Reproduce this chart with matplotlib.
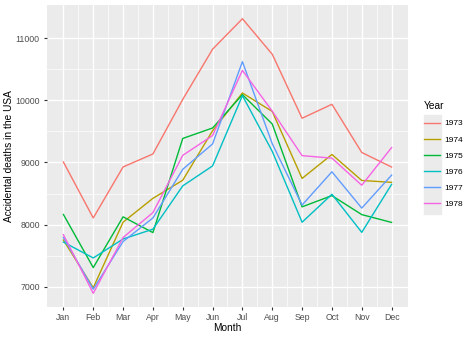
import numpy as np
import matplotlib.pyplot as plt
from matplotlib.patches import Rectangle

plt.rcParams['font.family'] = ['Liberation Sans', 'DejaVu Sans']

months = ['Jan', 'Feb', 'Mar', 'Apr', 'May', 'Jun', 'Jul', 'Aug', 'Sep', 'Oct', 'Nov', 'Dec']
years = ['1973', '1974', '1975', '1976', '1977', '1978']
deaths = {
    '1973': [9007, 8106, 8928, 9137, 10017, 10826, 11317, 10744, 9713, 9938, 9161, 8927],
    '1974': [7750, 6981, 8038, 8422, 8714, 9512, 10120, 9823, 8743, 9129, 8710, 8680],
    '1975': [8162, 7306, 8124, 7870, 9387, 9556, 10093, 9620, 8285, 8466, 8160, 8034],
    '1976': [7717, 7461, 7767, 7925, 8623, 8945, 10078, 9179, 8037, 8488, 7874, 8647],
    '1977': [7792, 6957, 7726, 8106, 8890, 9299, 10625, 9302, 8314, 8850, 8265, 8796],
    '1978': [7836, 6892, 7791, 8192, 9115, 9434, 10484, 9827, 9110, 9070, 8633, 9240],
}
colors = ['#F8766D', '#B79F00', '#00BA38', '#00BFC4', '#619CFF', '#F564E3']

fig = plt.figure(figsize=(4.74, 3.38), dpi=100)
ax = fig.add_axes([47/474, 31/338, 361/474, 302/338])
ax.set_facecolor('#EBEBEB')

x = np.arange(1, 13)
lines = []
for yr, c in zip(years, colors):
    l, = ax.plot(x, deaths[yr], color=c, lw=1.0, label=yr)
    lines.append(l)

allv = np.concatenate([deaths[y] for y in years])
lo, hi = allv.min(), allv.max()
pad = (hi - lo) * 0.05
ax.set_ylim(lo - pad, hi + pad)
ax.set_xlim(1 - 0.55, 12 + 0.55)

ax.set_xticks(x)
ax.set_xticklabels(months)
ax.set_xticks(x[:-1] + 0.5, minor=True)
ax.set_yticks([7000, 8000, 9000, 10000, 11000])
ax.set_yticks([7500, 8500, 9500, 10500], minor=True)
ax.grid(which='major', color='white', lw=1.0)
ax.grid(which='minor', color='white', lw=0.5)
ax.set_axisbelow(True)
for s in ax.spines.values():
    s.set_visible(False)
ax.tick_params(which='major', length=2.2, color='#333333', labelsize=6.3, labelcolor='#4D4D4D', pad=3)
ax.tick_params(axis='x', which='major', pad=2)
ax.tick_params(which='minor', length=0)

ax.set_xlabel('Month', fontsize=7.3, labelpad=1)
ax.set_ylabel('Accidental deaths in the USA', fontsize=7.3)
ax.yaxis.set_label_coords(-33/361, 0.5)

leg = fig.legend(handles=lines, title='Year', loc='upper left',
                 bbox_to_anchor=(420.5/474, 1 - 98/338), frameon=False,
                 fontsize=6, title_fontsize=7.3, handlelength=1.9,
                 labelspacing=1.0, handletextpad=0.6, borderaxespad=0)
leg._legend_box.align = 'left'
fig.patches.append(Rectangle((424/474, 1 - 214/338), 17/474, 99/338,
                             transform=fig.transFigure, color='#EBEBEB', zorder=-1))

plt.savefig('out.png', dpi=100)
